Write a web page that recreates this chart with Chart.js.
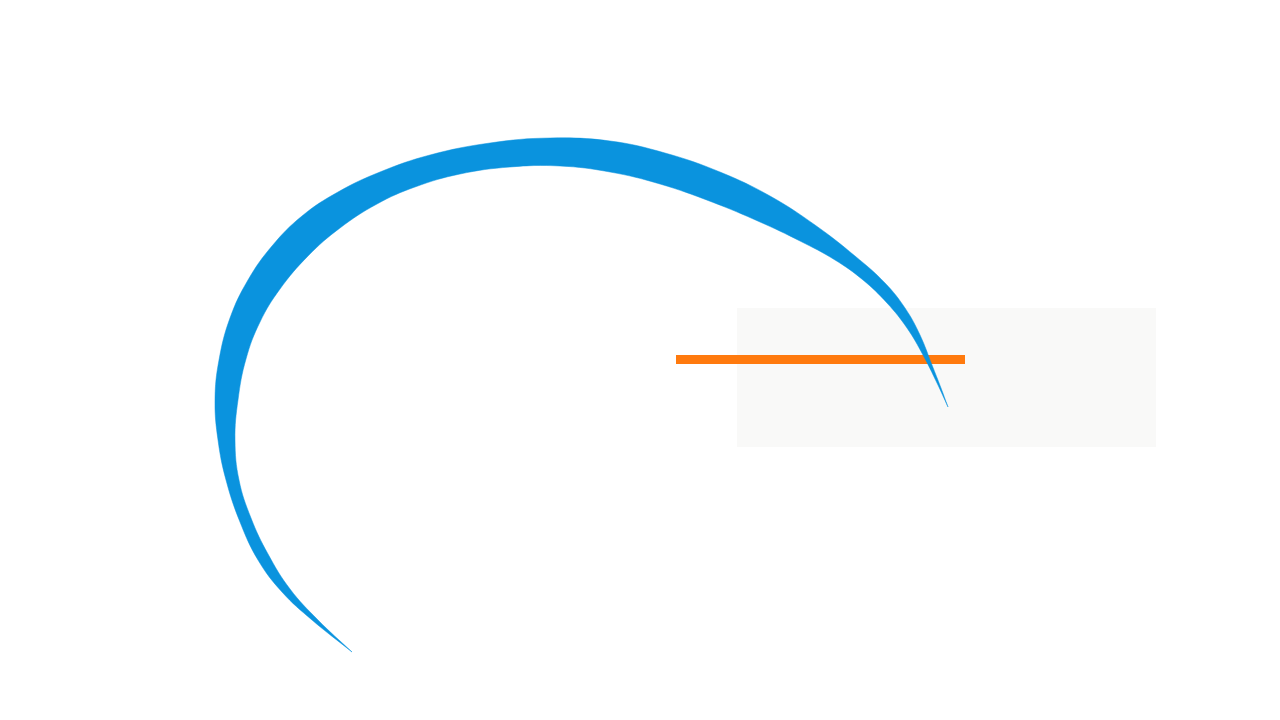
<!DOCTYPE html>
<html>
<head>
<meta charset="utf-8">
<script src="https://cdn.jsdelivr.net/npm/chart.js@4/dist/chart.umd.min.js"></script>
<style>
  html, body { margin: 0; padding: 0; background: #ffffff; }
  #wrap { width: 1280px; height: 720px; position: relative; }
</style>
</head>
<body>
<div id="wrap"><canvas id="chart"></canvas></div>
<script>
// Crescent arc, outer edge (bottom tip -> right tip)
const arcOuterX = [352, 312, 282, 258, 240, 226, 218, 215, 219, 230, 248, 272, 302, 338, 380, 430, 490, 550, 610, 665, 720, 770, 815, 855, 885, 905, 920, 932, 941, 948];
const arcOuterY = [652, 620, 592, 560, 522, 480, 440, 400, 360, 318, 280, 246, 216, 192, 172, 155, 143, 138, 141, 153, 172, 196, 225, 256, 283, 308, 335, 365, 388, 407];

// Crescent arc, inner edge (right tip -> bottom tip)
const arcInnerX = [948, 937, 923, 907, 887, 863, 835, 800, 760, 712, 660, 610, 560, 510, 460, 415, 377, 340, 308, 280, 260, 246, 238, 235, 239, 251, 268, 290, 318, 352];
const arcInnerY = [407, 383, 355, 328, 303, 280, 260, 241, 222, 202, 184, 172, 166, 167, 174, 187, 204, 228, 256, 289, 322, 359, 400, 440, 480, 518, 554, 589, 620, 652];

// Orange marker line
const markerX = [676, 965];
const markerY = [359.5, 359.5];

// Pale panel behind the marker
const panelX = [737, 1156, 1156, 737];
const panelY = [308, 308, 447, 447];

const toPoints = (xs, ys) => xs.map((x, i) => ({ x, y: ys[i] }));

const arcPoints = toPoints(arcOuterX, arcOuterY).concat(toPoints(arcInnerX, arcInnerY));

new Chart(document.getElementById('chart'), {
  type: 'line',
  data: {
    datasets: [
      {
        label: 'arc',
        data: arcPoints,
        fill: 'shape',
        backgroundColor: '#0A93DE',
        borderColor: '#0A93DE',
        borderWidth: 0.5,
        tension: 0.4,
        pointRadius: 0
      },
      {
        label: 'marker',
        data: toPoints(markerX, markerY),
        fill: false,
        borderColor: '#FF7A0E',
        borderWidth: 9,
        borderCapStyle: 'butt',
        tension: 0,
        pointRadius: 0
      },
      {
        label: 'panel',
        data: toPoints(panelX, panelY),
        fill: 'shape',
        backgroundColor: '#F9F9F8',
        borderColor: '#F9F9F8',
        borderWidth: 0,
        tension: 0,
        pointRadius: 0
      }
    ]
  },
  options: {
    responsive: true,
    maintainAspectRatio: false,
    animation: false,
    layout: { padding: 0 },
    plugins: {
      legend: { display: false },
      tooltip: { enabled: false }
    },
    scales: {
      x: { type: 'linear', min: 0, max: 1280, display: false },
      y: { type: 'linear', min: 0, max: 720, reverse: true, display: false }
    }
  }
});
</script>
</body>
</html>
